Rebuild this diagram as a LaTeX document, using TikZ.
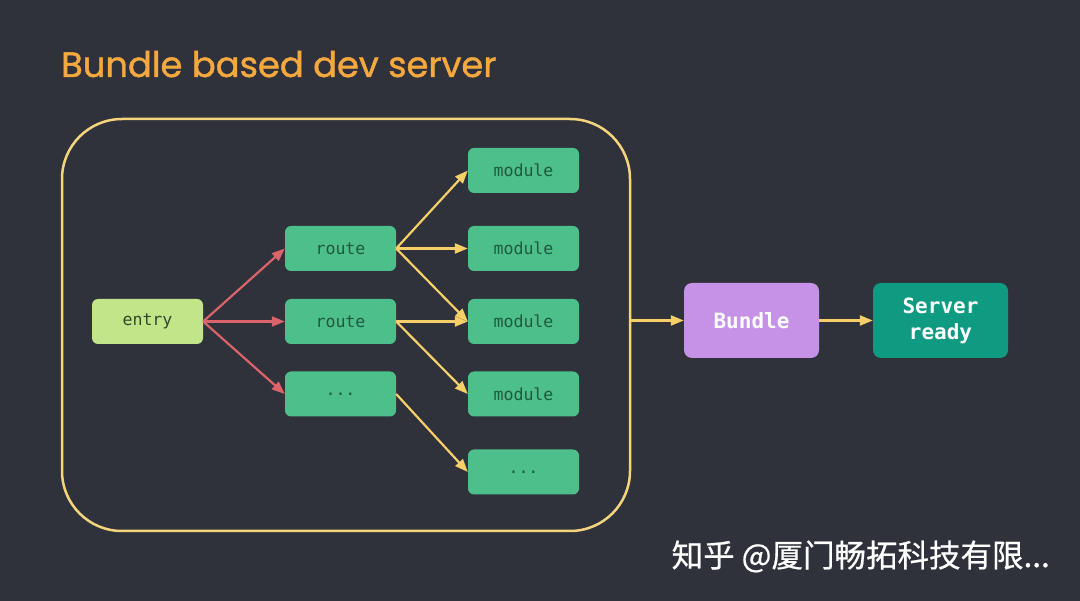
\documentclass[tikz,border=0pt]{standalone}
\usepackage{fontspec}
\setmonofont{DejaVu Sans Mono}
\newfontfamily\titlefont{Poppins}[FakeBold=1.2]
\newfontfamily\cjkfont{Noto Sans CJK SC}[FakeBold=0.6]
\usetikzlibrary{arrows.meta}
\definecolor{bg}{HTML}{2F323B}
\definecolor{titleorange}{HTML}{F5A83E}
\definecolor{frameyellow}{HTML}{F4D47C}
\definecolor{arrowyellow}{HTML}{F6CF68}
\definecolor{arrowred}{HTML}{DA646A}
\definecolor{boxgreen}{HTML}{4DBF8A}
\definecolor{entrygreen}{HTML}{C3E58A}
\definecolor{bundlepurple}{HTML}{C692E8}
\definecolor{serverteal}{HTML}{0F9A82}
\definecolor{greentext}{HTML}{1E5A40}
\definecolor{entrytext}{HTML}{2E4A2C}
\begin{document}
\begin{tikzpicture}[x=1pt,y=-1pt,
  box/.style={rounded corners=6pt, minimum width=111pt, minimum height=45pt, inner sep=0pt,
    font=\ttfamily\fontsize{16.6}{19}\selectfont},
  gbox/.style={box, fill=boxgreen, text=greentext},
  bigbox/.style={rounded corners=8pt, minimum width=135pt, minimum height=75pt, inner sep=0pt,
    text=white, font=\ttfamily\bfseries\fontsize{21}{26}\selectfont, align=center},
  redarrow/.style={draw=arrowred, line width=2.2pt, -{Triangle[length=13pt,width=10pt]}},
  yarrow/.style={draw=arrowyellow, line width=2.2pt, -{Triangle[length=13pt,width=10pt]}}
]
\fill[bg] (0,0) rectangle (1080,601);
\useasboundingbox (0,0) rectangle (1080,601);

\node[anchor=base west, text=titleorange, font=\titlefont\fontsize{35.3}{42}\selectfont, inner sep=0pt] (title) at (61,77) {Bundle based dev server};

\node[draw=frameyellow, line width=2.5pt, rounded corners=60pt, minimum width=568pt, minimum height=412pt, inner sep=0pt] (frame) at (346,325) {};

\node[box, fill=entrygreen, text=entrytext] (entry) at (147.5,321.5) {entry};
\node[gbox] (r1) at (340.5,248.5) {route};
\node[gbox] (r2) at (340.5,321.5) {route};
\node[gbox] (r3) at (340.5,394) {...};

\node[gbox] (m1) at (523.5,170.5) {module};
\node[gbox] (m2) at (523.5,248.5) {module};
\node[gbox] (m3) at (523.5,321.5) {module};
\node[gbox] (m4) at (523.5,394) {module};
\node[gbox] (m5) at (523.5,472) {...};

\node[bigbox, fill=bundlepurple] (bundle) at (751.5,320.5) {Bundle};
\node[bigbox, fill=serverteal] (server) at (940.5,320.5) {Server\\ready};

\draw[redarrow] (entry.east) -- (r1.west);
\draw[redarrow] (entry.east) -- (r2.west);
\draw[redarrow] (entry.east) -- (r3.west);

\draw[yarrow] (r1.east) -- (m1.west);
\draw[yarrow] (r1.east) -- (m2.west);
\draw[yarrow] (r1.east) -- (m3.west);
\draw[yarrow] (r2.east) -- (m3.west);
\draw[yarrow] (r2.east) -- (m4.west);
\draw[yarrow] (r3.east) -- (m5.west);

\draw[yarrow] (frame.east |- bundle.west) -- (bundle.west);
\draw[yarrow] (bundle.east) -- (server.west);

\node[anchor=base east, text=white, font=\cjkfont\fontsize{31.5}{36}\selectfont, inner sep=0pt] (wm) at (1050,567) {知乎 @厦门畅拓科技有限...};
\end{tikzpicture}
\end{document}
